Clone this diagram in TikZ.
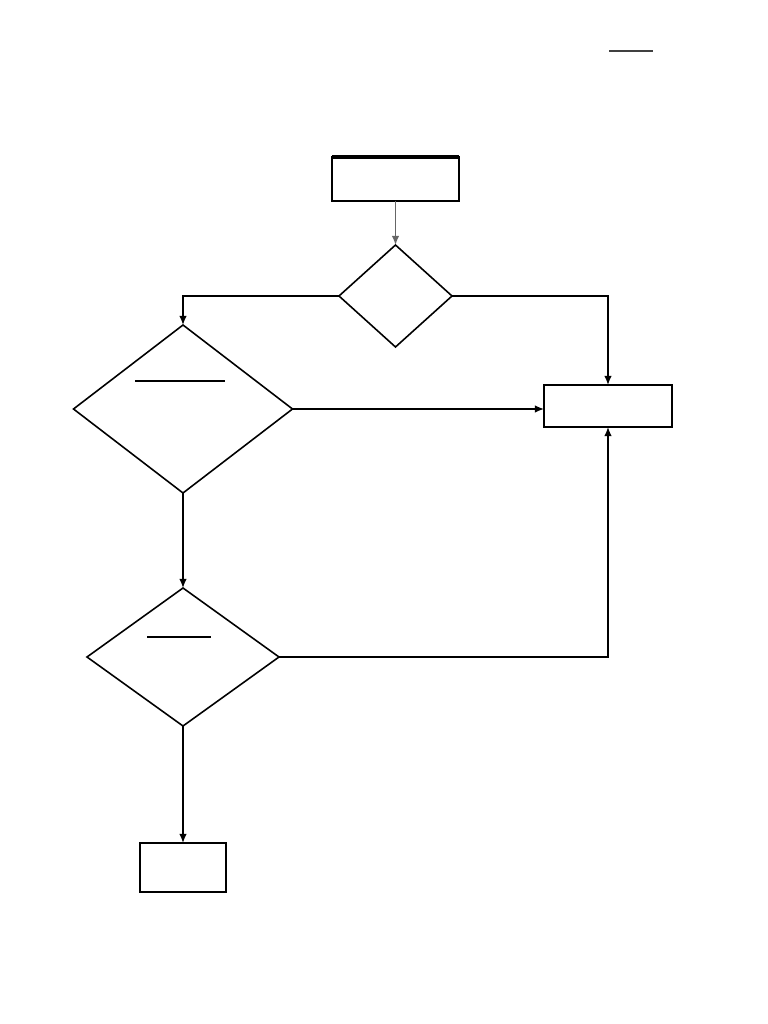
\documentclass[tikz,border=0pt]{standalone}
\usepackage{amsmath,amssymb}
\usepackage{tikz}
\usetikzlibrary{shapes.geometric,arrows.meta}

\tikzset{
    box/.style = {shape=rectangle, draw, line width=0.45pt, inner sep=0pt, outer sep=0pt},
    decision/.style = {shape=diamond, draw, line width=0.45pt, inner sep=0pt, outer sep=0pt},
    flow/.style = {line width=0.45pt, -{Latex[length=2.6pt, width=2.2pt]}}
}

\begin{document}
\begin{tikzpicture}
            \useasboundingbox (0, 0) rectangle (7.68, 10.24);

            \draw[line width=0.8pt, black!75] (6.09, 9.73) -- (6.53, 9.73);

            \node[box, minimum width=1.27cm, minimum height=0.44cm] (B1) at (3.955, 8.45) {};
            \node[decision, minimum width=1.13cm, minimum height=1.02cm] (D1) at (3.955, 7.28) {};
            \node[decision, minimum width=2.19cm, minimum height=1.68cm] (D2) at (1.83, 6.15) {};
            \node[box, minimum width=1.28cm, minimum height=0.42cm] (B2) at (6.08, 6.18) {};
            \node[decision, minimum width=1.92cm, minimum height=1.38cm] (D3) at (1.83, 3.67) {};
            \node[box, minimum width=0.86cm, minimum height=0.49cm] (B3) at (1.83, 1.565) {};

            \draw[line width=1pt] (B1.north west) -- (B1.north east);
            \draw[line width=0.45pt] (1.35, 6.43) -- (2.25, 6.43);
            \draw[line width=0.45pt] (1.47, 3.87) -- (2.11, 3.87);

            \draw[flow, black!60] (B1) to (D1);
            \draw[flow] (D1.west) -| (D2.north);
            \draw[flow] (D1.east) -| (B2.north);
            \draw[flow] (D2.east) -- (D2.east -| B2.west);
            \draw[flow] (D2) to (D3);
            \draw[flow] (D3.east) -| (B2.south);
            \draw[flow] (D3) to (B3);

        \end{tikzpicture}
\end{document}
